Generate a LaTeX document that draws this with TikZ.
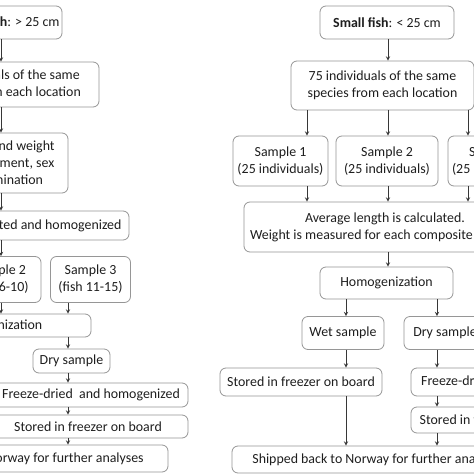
\documentclass[tikz,border=0pt]{standalone}
\usepackage{fontspec}
\setmainfont{Carlito}
\usepackage{tikz}
\usetikzlibrary{arrows,positioning}
\usepackage{xcolor}
\definecolor{fcgray}{RGB}{150,150,150}
\definecolor{fcdark}{RGB}{55,55,55}
\definecolor{fctext}{RGB}{30,30,30}
\tikzstyle{arrow} = [->,>=stealth,line width=0.9pt,color=fcdark]
\tikzstyle{flowbox} = [rectangle, rounded corners=6pt, draw=fcgray, line width=0.8pt, fill=white, text=fctext, align=center, inner sep=0pt]

\begin{document}
\begin{tikzpicture}[x=1pt, y=-1pt, font=\fontsize{13.9}{17}\selectfont]
\useasboundingbox (0,0) rectangle (474,474);
\fill[white] (0,0) rectangle (474,474);
\clip (0,0) rectangle (474,474);

\node[flowbox, minimum width=112pt, minimum height=33pt] (large) at (6,22.5) {\textbf{Large fish}: > 25 cm};
\node[flowbox, minimum width=186pt, minimum height=45pt] (ind15) at (6,84.5) {15 individuals of the same\\species from each location};
\node[flowbox, minimum width=131pt, minimum height=60pt] (lenw) at (2.5,163) {Length and weight\\measurement, sex\\determination};
\node[flowbox, minimum width=205pt, minimum height=29pt] (fil) at (26.5,225.5) {Fish are filleted and homogenized};
\node[flowbox, minimum width=82pt, minimum height=46pt] (samp2L) at (0,279.5) {Sample 2\\(fish 6-10)};
\node[flowbox, minimum width=80pt, minimum height=46pt] (samp3L) at (90.5,279.5) {Sample 3\\(fish 11-15)};
\node[flowbox, minimum width=190pt, minimum height=23pt] (homL) at (-4,325.5) {Homogenization};
\node[flowbox, minimum width=77pt, minimum height=24pt] (dryL) at (71.5,361) {Dry sample};
\node[flowbox, minimum width=194pt, minimum height=24pt] (freezeL) at (91,395) {Freeze-dried\ \ and homogenized};
\node[flowbox, minimum width=200pt, minimum height=23pt] (storL) at (88,426.5) {Stored in freezer\ on board};
\node[flowbox, minimum width=299pt, minimum height=27pt] (shipL) at (18.5,458.5) {Shipped back to Norway for further analyses};

\node[flowbox, minimum width=134pt, minimum height=33pt] (small) at (387,22.5) {\textbf{Small fish}: < 25 cm};
\node[flowbox, minimum width=183pt, minimum height=49pt] (ind75) at (382.5,85.5) {75 individuals of the same\\species from each location};
\node[flowbox, minimum width=95pt, minimum height=50pt] (samp1) at (280.5,161) {Sample 1\\(25 individuals)};
\node[flowbox, minimum width=102pt, minimum height=50pt] (samp2) at (387,161) {Sample 2\\(25 individuals)};
\node[flowbox, minimum width=94pt, minimum height=50pt] (samp3) at (495,161) {Sample 3\\(25 individuals)};
\node[flowbox, minimum width=282pt, minimum height=50pt] (avg) at (385,227) {Average length is calculated.\\Weight is measured for each composite sample.};
\node[flowbox, minimum width=133pt, minimum height=32pt] (homR) at (386.5,283) {Homogenization};
\node[flowbox, minimum width=82pt, minimum height=33pt] (wet) at (343,333) {Wet sample};
\node[flowbox, minimum width=82pt, minimum height=33pt] (dryR) at (445,333) {Dry sample};
\node[flowbox, minimum width=162pt, minimum height=28pt] (storR1) at (301,382) {Stored in freezer\ on board};
\node[flowbox, minimum width=198pt, minimum height=28pt] (freezeR) at (510,382) {Freeze-dried\ \ and homogenized};
\node[flowbox, minimum width=165pt, minimum height=26pt] (storR2) at (493.5,420) {Stored in freezer\ on board};
\node[flowbox, minimum width=291pt, minimum height=27pt] (shipR) at (377.5,459.5) {Shipped back to Norway for further analyses};

\coordinate (xa) at (1,0);
\coordinate (xb) at (68,0);
\coordinate (xc) at (388,0);
\coordinate (xd) at (307,0);
\coordinate (xe) at (468,0);
\coordinate (xf) at (346,0);
\coordinate (xg) at (437,0);

\draw[arrow] (large.south -| xa) -- (ind15.north -| xa);
\draw[arrow] (ind15.south -| xa) -- (lenw.north -| xa);
\draw[arrow] (lenw.south -| xa) -- (fil.north -| xa);
\draw[arrow] (fil.south -| xa) -- (samp2L.north -| xa);
\draw[arrow] (samp2L.south -| xa) -- (homL.north -| xa);
\draw[arrow] (samp3L.south -| xb) -- (homL.north -| xb);
\draw[arrow] (homL.south -| xb) -- (dryL.north -| xb);
\draw[arrow] (dryL.south -| xb) -- (freezeL.north -| xb);
\draw[arrow] (freezeL.south -| xb) -- (storL.north -| xb);
\draw[arrow] (storL.south -| xb) -- (shipL.north -| xb);

\draw[arrow] (small.south -| xc) -- (ind75.north -| xc);
\draw[arrow] (ind75.south -| xd) -- (samp1.north -| xd);
\draw[arrow] (ind75.south -| xc) -- (samp2.north -| xc);
\draw[arrow] (ind75.south -| xe) -- (samp3.north -| xe);
\draw[arrow] (samp1.south -| xd) -- (avg.north -| xd);
\draw[arrow] (samp2.south -| xc) -- (avg.north -| xc);
\draw[arrow] (samp3.south -| xe) -- (avg.north -| xe);
\draw[arrow] (avg.south -| xc) -- (homR.north -| xc);
\draw[arrow] (homR.south -| xf) -- (wet.north -| xf);
\draw[arrow] (homR.south -| xg) -- (dryR.north -| xg);
\draw[arrow] (wet.south -| xf) -- (storR1.north -| xf);
\draw[arrow] (storR1.south -| xf) -- (shipR.north -| xf);
\draw[arrow] (dryR.south -| xg) -- (freezeR.north -| xg);
\draw[arrow] (freezeR.south -| xg) -- (storR2.north -| xg);
\draw[arrow] (storR2.south -| xg) -- (shipR.north -| xg);
\end{tikzpicture}
\end{document}
